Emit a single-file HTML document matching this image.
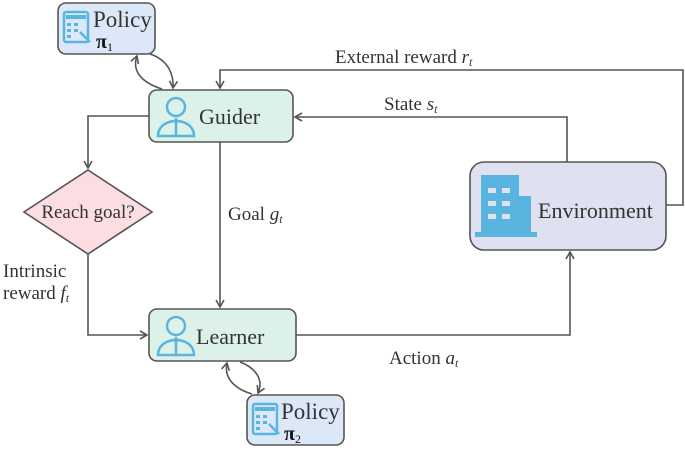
<!DOCTYPE html>
<html><head><meta charset="utf-8"><style>
body{margin:0;background:#fff}
svg text{font-family:"Liberation Serif",serif;fill:#333}
</style></head><body>
<svg width="685" height="448" viewBox="0 0 685 448" xmlns="http://www.w3.org/2000/svg">
<defs>
<marker id="a" markerWidth="10" markerHeight="10" refX="8" refY="5" orient="auto" markerUnits="userSpaceOnUse">
<path d="M1,1 L8,5 L1,9" fill="none" stroke="#555" stroke-width="1.6"/></marker>
</defs>
<g fill="none" stroke="#555" stroke-width="1.6">
<path d="M149,116 H88 V168" marker-end="url(#a)"/>
<path d="M88,254 V335 H147" marker-end="url(#a)"/>
<path d="M220,142 V307" marker-end="url(#a)"/>
<path d="M567,162 V117 H295" marker-end="url(#a)"/>
<path d="M666,205 H683 V70 H220 V88" marker-end="url(#a)"/>
<path d="M296,335 H570 V252" marker-end="url(#a)"/>
<path d="M162,89 C140,82 132,70 137,56" marker-end="url(#a)"/>
<path d="M150,54 C168,60 174,74 173,88" marker-end="url(#a)"/>
<path d="M252,394 C232,388 224,376 227,363" marker-end="url(#a)"/>
<path d="M240,362 C256,368 264,380 258,393" marker-end="url(#a)"/>
</g>
<rect x="58" y="3" width="97" height="51" rx="8" fill="#dce8f8" stroke="#555" stroke-width="1.6"/>
<rect x="247" y="395" width="97" height="50" rx="8" fill="#dce8f8" stroke="#555" stroke-width="1.6"/>
<rect x="149" y="90" width="144" height="52" rx="8" fill="#dcf2e8" stroke="#555" stroke-width="1.6"/>
<rect x="149" y="309" width="147" height="52" rx="8" fill="#dcf2e8" stroke="#555" stroke-width="1.6"/>
<rect x="470" y="162" width="196" height="88" rx="14" fill="#dfe0f0" stroke="#555" stroke-width="1.6"/>
<polygon points="88,170 152,212 88,254 24,212" fill="#fbdde2" stroke="#555" stroke-width="1.6"/>
<g fill="none" stroke="#5ab4e0" stroke-width="2.5">
<rect x="64" y="12" width="24" height="30" rx="2"/>
<path d="M80,32 L90,42"/>
<rect x="253" y="404" width="24" height="30" rx="2"/>
<path d="M269,424 L279,434"/>
<circle cx="176" cy="107" r="9"/>
<path d="M158,136 C158,116 194,116 194,136 Z M176,118 V136"/>
<circle cx="176" cy="326" r="9"/>
<path d="M158,355 C158,335 194,335 194,355 Z M176,337 V355"/>
</g>
<g fill="#5ab4e0">
<rect x="66" y="15" width="20" height="4"/><rect x="255" y="407" width="20" height="4"/>
<rect x="67" y="23" width="4" height="3"/><rect x="74" y="23" width="4" height="3"/><rect x="67" y="29" width="4" height="3"/><rect x="74" y="29" width="4" height="3"/><rect x="67" y="35" width="4" height="3"/>
<rect x="256" y="415" width="4" height="3"/><rect x="263" y="415" width="4" height="3"/><rect x="256" y="421" width="4" height="3"/><rect x="263" y="421" width="4" height="3"/><rect x="256" y="427" width="4" height="3"/>
<rect x="481" y="175" width="38" height="60"/><rect x="519" y="196" width="12" height="39"/><rect x="475" y="232" width="62" height="5"/>
</g>
<g fill="#dfe0f0"><rect x="488" y="188" width="8" height="5"/><rect x="502" y="188" width="8" height="5"/><rect x="488" y="201" width="8" height="5"/><rect x="502" y="201" width="8" height="5"/><rect x="488" y="214" width="8" height="5"/><rect x="502" y="214" width="8" height="5"/></g>
<text x="93" y="27" font-size="23">Policy</text>
<text x="96" y="48" font-size="20" font-weight="bold" style="fill:#111">π<tspan font-size="12" font-weight="normal" dy="3">1</tspan></text>
<text x="281" y="419" font-size="23">Policy</text>
<text x="284" y="440" font-size="20" font-weight="bold" style="fill:#111">π<tspan font-size="12" font-weight="normal" dy="3">2</tspan></text>
<text x="199" y="124" font-size="22">Guider</text>
<text x="196" y="344" font-size="22">Learner</text>
<text x="538" y="218" font-size="22">Environment</text>
<text x="88" y="218" font-size="19" text-anchor="middle">Reach goal?</text>
<text x="228" y="220" font-size="19">Goal <tspan font-style="italic">g</tspan><tspan font-size="12" font-style="italic" dy="3">t</tspan></text>
<text x="384" y="110" font-size="19">State <tspan font-style="italic">s</tspan><tspan font-size="12" font-style="italic" dy="3">t</tspan></text>
<text x="335" y="63" font-size="19">External reward <tspan font-style="italic">r</tspan><tspan font-size="12" font-style="italic" dy="3">t</tspan></text>
<text x="389" y="364" font-size="19">Action <tspan font-style="italic">a</tspan><tspan font-size="12" font-style="italic" dy="3">t</tspan></text>
<text x="3" y="277" font-size="19">Intrinsic</text>
<text x="3" y="299" font-size="19">reward <tspan font-style="italic">f</tspan><tspan font-size="12" font-style="italic" dy="3">t</tspan></text>
</svg>
</body></html>
